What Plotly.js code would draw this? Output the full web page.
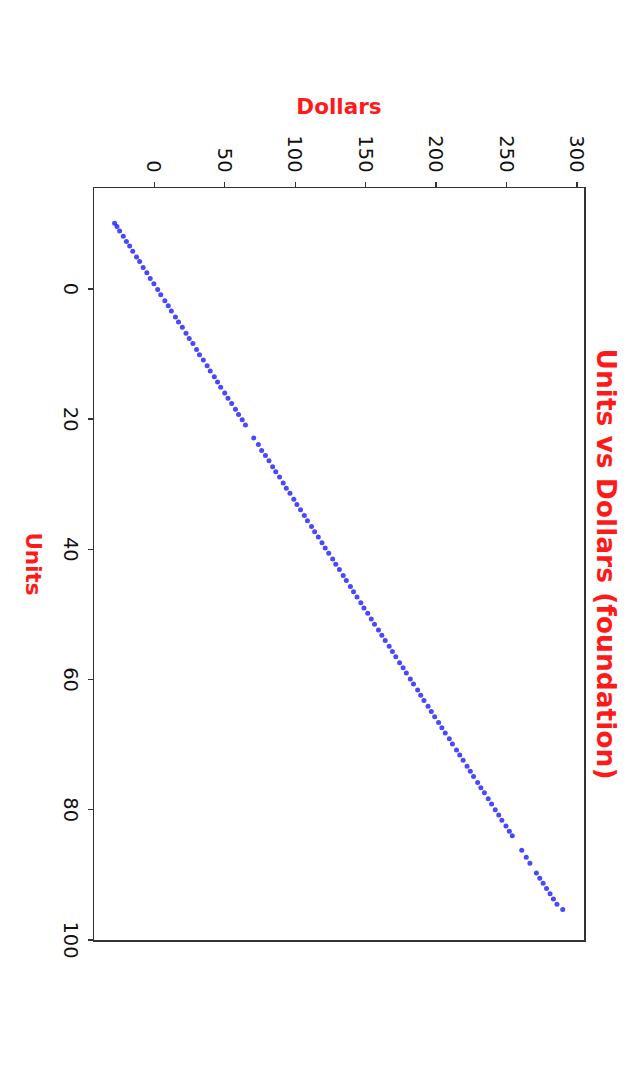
<!DOCTYPE html>
<html>
<head>
<meta charset="utf-8">
<script src="https://cdn.plot.ly/plotly-3.0.1.min.js"></script>
<style>
  html, body { margin: 0; padding: 0; width: 640px; height: 1065px; overflow: hidden; background: #fff; }
  #chart { position: absolute; left: 0; top: 0; width: 1065px; height: 640px;
           transform-origin: 0 0; transform: translate(640px, 0) rotate(90deg); }
</style>
</head>
<body>
<div id="chart"></div>
<script>
// Data
const units = [
  -10.1, -9.6, -8.9, -8.1, -7.3, -6.6, -5.8, -4.9, -4.2, -3.3, -2.5, -1.6, -0.8, 0.1,
  0.9, 1.8, 2.6, 3.4, 4.3, 5.1, 5.9, 6.8, 7.6, 8.4, 9.3, 10.1, 10.9, 11.8, 12.6,
  13.5, 14.3, 15.1, 16.0, 16.8, 17.6, 18.5, 19.3, 20.1, 20.9,
  22.9, 23.9, 24.8, 25.6, 26.4, 27.3, 28.1, 28.9, 29.8, 30.6, 31.4, 32.3, 33.1,
  33.9, 34.8, 35.6, 36.5, 37.3, 38.1, 39.0, 39.8, 40.6, 41.5, 42.3, 43.1, 44.0,
  44.8, 45.7, 46.5, 47.3, 48.2, 49.0, 49.8, 50.7, 51.5, 52.4, 53.2, 54.0, 54.9,
  55.7, 56.5, 57.4, 58.2, 59.0, 59.9, 60.7, 61.6, 62.4, 63.2, 64.1, 64.9, 65.7,
  66.6, 67.4, 68.2, 69.1, 69.9, 70.8, 71.6, 72.4, 73.3, 74.1, 74.9, 75.8, 76.6,
  77.4, 78.3, 79.1, 80.0, 80.8, 81.6, 82.5, 83.3, 84.0,
  86.2, 87.3, 88.2, 89.7, 90.5, 91.3, 92.1, 92.9, 93.7, 94.5, 95.3
];
const dollars = [
  -28.2, -26.5, -24.6, -22.0, -19.8, -17.5, -15.3, -12.6, -10.4, -7.9, -5.3, -2.9, -0.3, 2.4,
  4.6, 7.5, 9.9, 12.1, 15.0, 17.2, 19.9, 22.5, 24.8, 27.4, 30.0, 32.1, 34.8, 37.5, 39.7,
  42.6, 44.9, 47.1, 50.0, 52.3, 54.9, 57.6, 59.8, 62.4, 64.7,
  70.6, 73.9, 76.2, 78.9, 81.4, 84.0, 86.2, 88.9, 91.5, 93.7, 96.3, 99.0, 101.2,
  103.8, 106.5, 108.7, 111.6, 113.8, 116.4, 119.0, 121.3, 123.8, 126.6, 128.8, 131.4, 134.1,
  136.3, 139.2, 141.4, 143.9, 146.6, 148.8, 151.5, 154.0, 156.3, 159.1, 161.5, 163.9, 166.7,
  169.0, 171.4, 174.1, 176.6, 178.9, 181.7, 184.0, 186.9, 189.1, 191.4, 194.3, 196.6, 199.0,
  201.8, 204.1, 206.5, 209.4, 211.6, 214.5, 216.8, 219.2, 222.0, 224.3, 226.6, 229.5, 231.8,
  234.3, 237.0, 239.4, 242.0, 244.5, 246.7, 249.6, 252.0, 254.1,
  260.8, 264.0, 266.6, 271.2, 273.6, 276.0, 278.4, 280.9, 283.3, 285.8, 289.9
];
const unitTicks = [0, 20, 40, 60, 80, 100];
const dollarTicks = [0, 50, 100, 150, 200, 250, 300];

const trace = {
  x: units, y: dollars, type: 'scatter', mode: 'markers',
  marker: { color: '#1a1aff', size: 5, opacity: 0.8, line: { width: 0 } },
  hoverinfo: 'skip'
};
const axisCommon = {
  showgrid: false, zeroline: false, showline: true, mirror: true,
  linecolor: '#333', linewidth: 1.5, ticks: 'outside', ticklen: 5,
  tickcolor: '#333', tickwidth: 1.3,
  tickfont: { family: 'DejaVu Sans', size: 19.5, color: '#111' }
};
const layout = {
  width: 1065, height: 640,
  margin: { l: 188, r: 125, t: 56, b: 94 },
  paper_bgcolor: '#fff', plot_bgcolor: '#fff',
  showlegend: false,
  title: { text: 'Units vs Dollars (foundation)', x: 0.5, xref: 'paper', y: 0.947, yanchor: 'middle',
           font: { family: 'DejaVu Sans', size: 26.5, color: '#ff1a1a', weight: 'bold' } },
  xaxis: Object.assign({}, axisCommon, {
    range: [-15.5, 100], tickvals: unitTicks, ticktext: unitTicks.map(String),
    title: { text: '<b>Units</b>', standoff: 19, font: { family: 'DejaVu Sans', size: 21.5, color: '#ff1a1a' } }
  }),
  yaxis: Object.assign({}, axisCommon, {
    range: [-42.8, 305], tickvals: dollarTicks, ticktext: dollarTicks.map(String),
    ticklabelstandoff: 5,
    title: { text: '<b>Dollars</b>', standoff: 15, font: { family: 'DejaVu Sans', size: 21.5, color: '#ff1a1a' } }
  })
};
Plotly.newPlot('chart', [trace], layout, { displayModeBar: false, staticPlot: true });
</script>
</body>
</html>
